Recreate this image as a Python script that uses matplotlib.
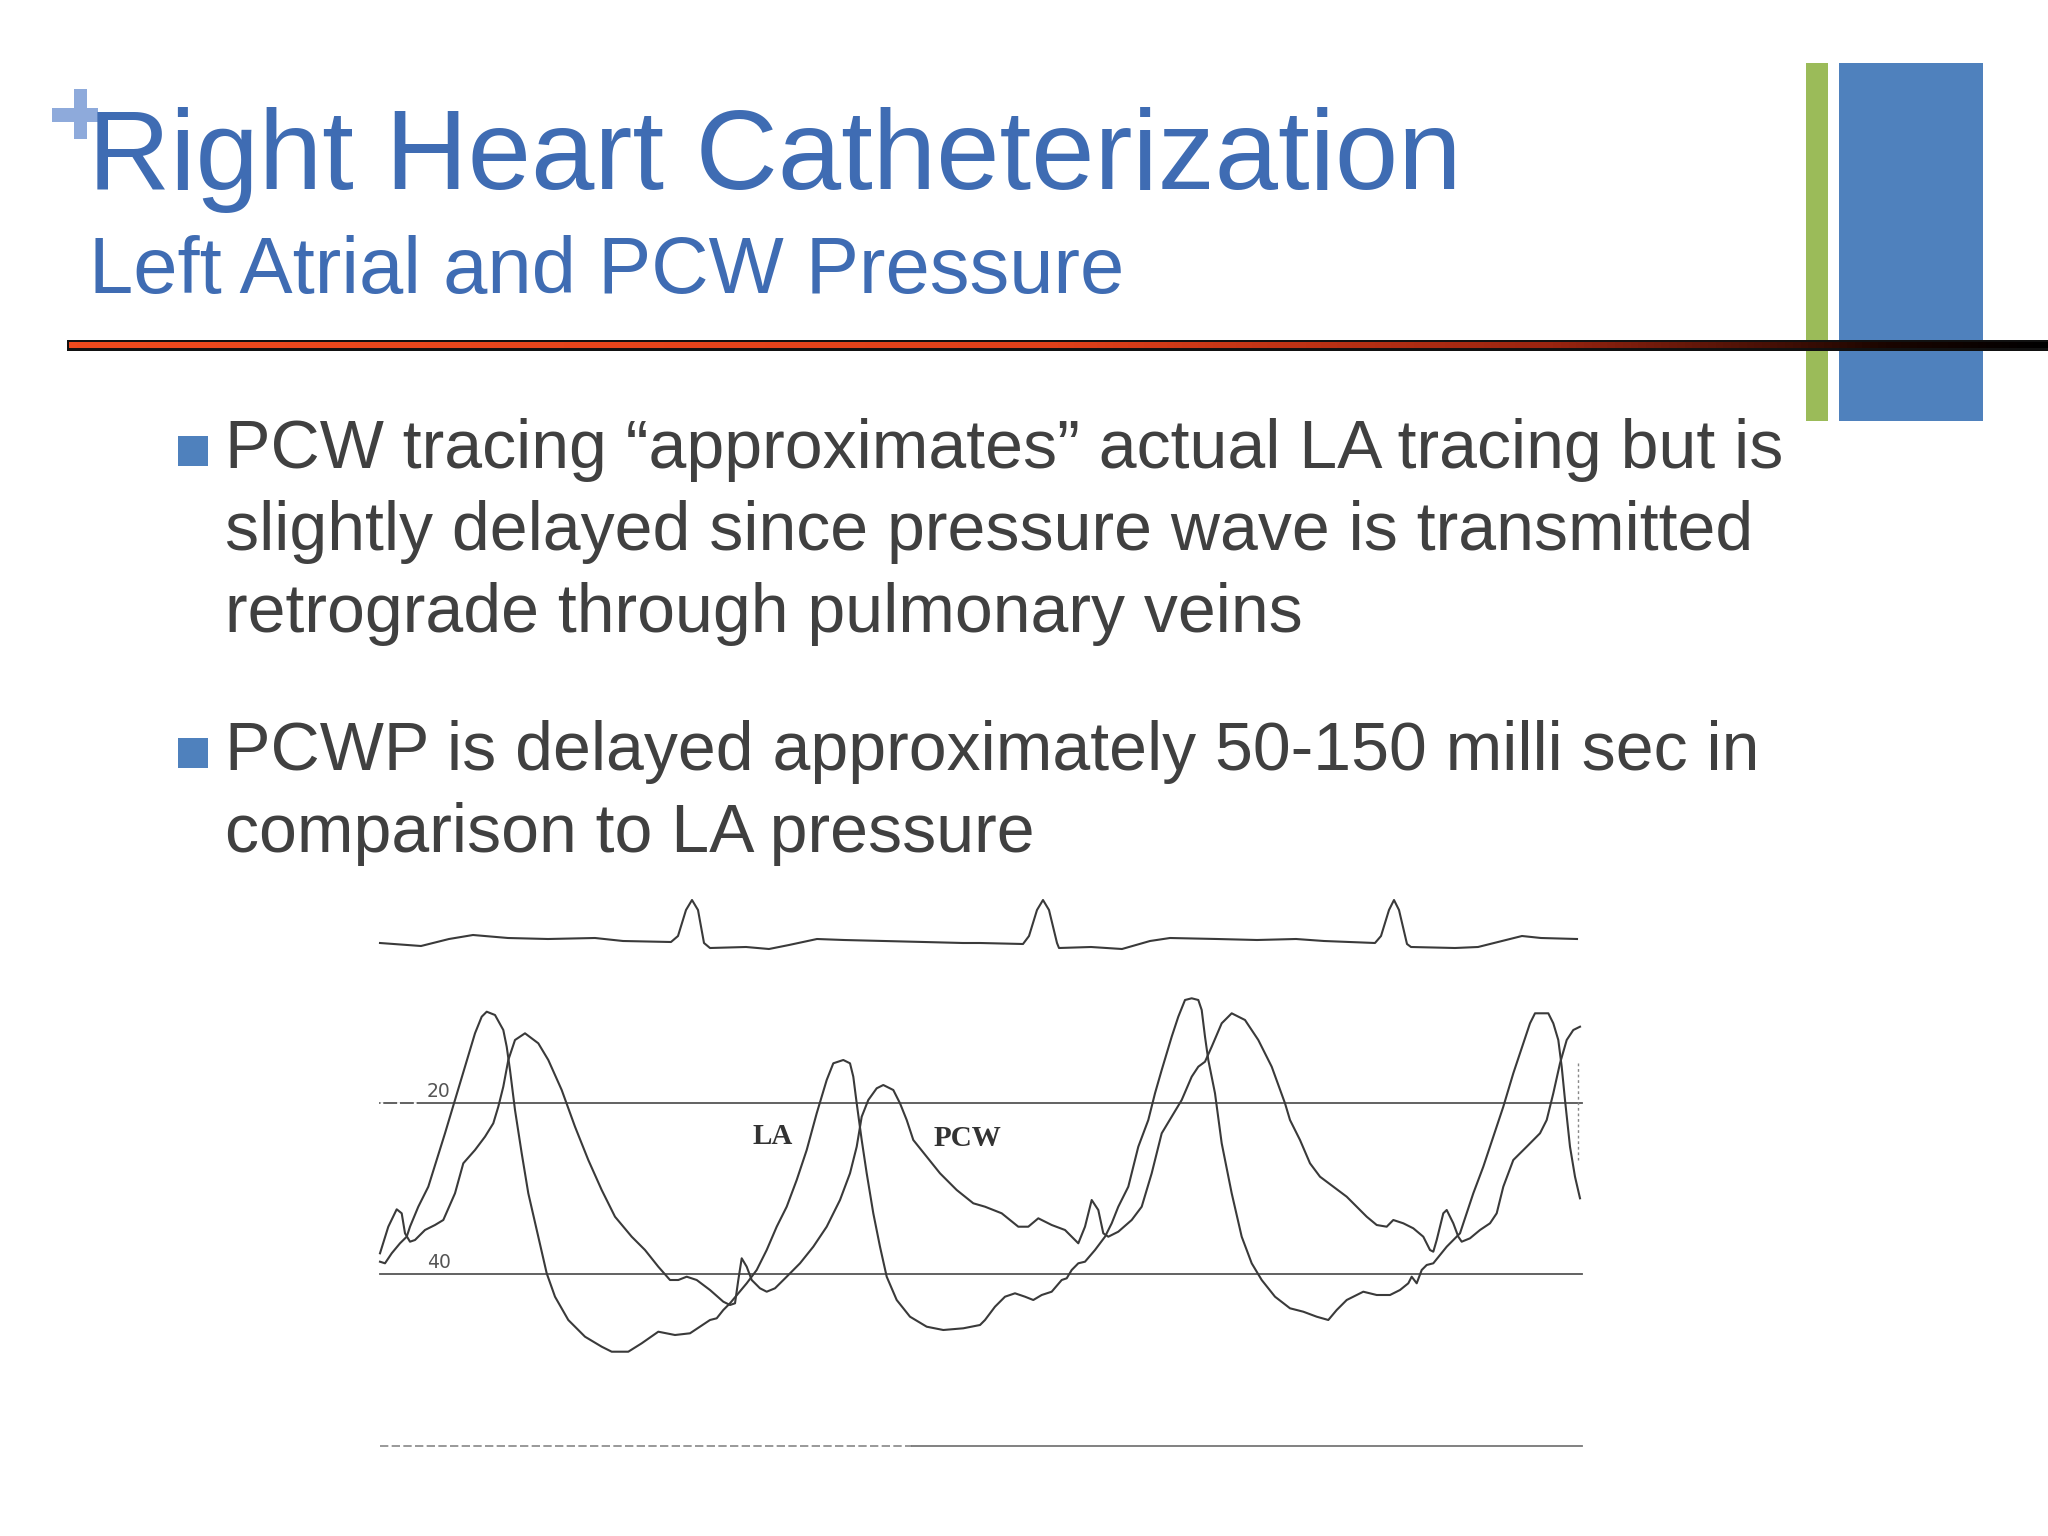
import matplotlib
matplotlib.use("Agg")
import matplotlib.pyplot as plt
import numpy as np
from matplotlib.patches import Rectangle
from matplotlib.colors import LinearSegmentedColormap

# slide text
title = "Right Heart Catheterization"
subtitle = "Left Atrial and PCW Pressure"
bullets = [
    ["PCW tracing \u201capproximates\u201d actual LA tracing but is",
     "slightly delayed since pressure wave is transmitted",
     "retrograde through pulmonary veins"],
    ["PCWP is delayed approximately 50-150 milli sec in",
     "comparison to LA pressure"],
]

# tracing (x = time, y = pen position, downward)
ecg_x = [380, 421, 449, 473, 508, 548, 595, 623, 671, 678, 686, 692, 698, 704, 710,
         746, 769, 789, 817, 844, 884, 924, 963, 980, 1023, 1029, 1037, 1043, 1049,
         1057, 1059, 1091, 1122, 1150, 1170, 1217, 1257, 1296, 1324, 1375, 1381,
         1389, 1394, 1399, 1407, 1411, 1455, 1478, 1494, 1522, 1541, 1577]
ecg_y = [943, 946, 939, 935, 938, 939, 938, 941, 942, 936, 910, 900, 910, 943, 948,
         947, 949, 945, 939, 940, 941, 942, 943, 943, 944, 936, 910, 900, 910,
         943, 948, 947, 949, 941, 938, 939, 940, 939, 941, 943, 936,
         910, 900, 910, 944, 947, 948, 947, 943, 936, 938, 939]

la_x = [380, 385, 391.7, 400, 406.7, 410, 418.3, 428.3, 436.7, 445, 455, 465, 475,
        481.7, 486.7, 495, 503.3, 506.7, 510, 515, 521.7, 528.3, 538.3, 546.7, 555,
        568.3, 585, 601.7, 611.7, 628.3, 641.7, 658.3, 675,
        690, 700, 710, 716.7, 723.3, 730, 738.3, 746.7, 756.7, 766.7, 776.7, 786.7,
        796.7, 806.7, 816.7, 826.7, 833.3, 843.3, 850, 853.3, 856.7, 861.7, 866.7,
        873.3, 880, 886.7, 896.7, 910, 926.7, 943.3, 963.3, 980,
        985, 995, 1005, 1015, 1025, 1033.3, 1041.7, 1051.7, 1061.7, 1066.7, 1071.7,
        1078.3, 1085, 1095, 1105, 1111.7, 1118.3, 1128.3, 1138.3, 1148.3, 1155,
        1161.7, 1171.7, 1178.3, 1185, 1191.7, 1198.3, 1201.7, 1205, 1208.3, 1215,
        1221.7, 1231.7, 1241.7, 1251.7, 1261.7, 1275,
        1290, 1303.3, 1316.7, 1328.3, 1336.7, 1346.7, 1363.3, 1376.7, 1390, 1400,
        1408.3, 1411.7, 1416.7, 1421.7, 1426.7, 1433.3, 1440, 1446.7, 1453.3, 1460,
        1463.3, 1473.3, 1483.3, 1493.3, 1503.3, 1513.3, 1523.3, 1530, 1535, 1548.3,
        1553.3, 1558.3, 1561.7, 1565, 1570, 1575, 1580]
la_y = [1261.7, 1263.3, 1253.3, 1243.3, 1236.7, 1226.7, 1206.7, 1186.7, 1160, 1133.3,
        1100, 1066.7, 1033.3, 1016.7, 1011.7, 1015, 1030, 1046.7, 1070, 1110, 1153.3,
        1193.3, 1236.7, 1273.3, 1296.7, 1320, 1336.7, 1346.7, 1351.7, 1351.7, 1343.3,
        1331.7, 1335,
        1333.3, 1326.7, 1320, 1318.3, 1310, 1303.3, 1293.3, 1283.3, 1270, 1250,
        1226.7, 1206.7, 1180, 1150, 1113.3, 1080, 1063.3, 1060, 1063.3, 1076.7,
        1103.3, 1140, 1173.3, 1213.3, 1246.7, 1276.7, 1300, 1316.7, 1326.7, 1330,
        1328.3, 1325,
        1320, 1306.7, 1296.7, 1293.3, 1296.7, 1300, 1295, 1291.7, 1280, 1278.3, 1270,
        1263.3, 1261.7, 1250, 1236.7, 1223.3, 1206.7, 1186.7, 1146.7, 1120, 1093.3,
        1070, 1036.7, 1016.7, 1000, 998.3, 1000, 1010, 1036.7, 1060, 1093.3,
        1143.3, 1193.3, 1236.7, 1263.3, 1280, 1296.7,
        1308.3, 1311.7, 1316.7, 1320, 1310, 1300, 1291.7, 1295, 1295, 1290,
        1283.3, 1276.7, 1283.3, 1270, 1265, 1263.3, 1255, 1246.7, 1240, 1233.3,
        1223.3, 1193.3, 1166.7, 1136.7, 1106.7, 1073.3, 1043.3, 1023.3, 1013.3, 1013.3,
        1023.3, 1040, 1066.7, 1100, 1146.7, 1176.7, 1198.3]

pcw_x = [380, 388.3, 396.7, 401.7, 405, 410, 415, 425, 435, 443.3, 455, 463.3, 475,
         485, 493.3, 498.3, 503.3, 508.3, 515, 525, 538.3, 548.3, 561.7, 575, 588.3,
         601.7, 615, 631.7, 645, 658.3, 670, 678.3,
         686.7, 696.7, 710, 723.3, 730, 735, 738.3, 741.7, 746.7, 751.7, 760, 766.7,
         775, 786.7, 800, 813.3, 826.7, 840, 850, 853.3, 856.7, 861.7, 868.3, 876.7,
         883.3, 893.3, 900, 906.7, 913.3, 926.7, 940, 956.7, 973.3,
         985, 1001.7, 1018.3, 1028.3, 1038.3, 1051.7, 1065, 1075, 1078.3, 1085,
         1091.7, 1098.3, 1103.3, 1108.3, 1118.3, 1131.7, 1141.7, 1151.7, 1161.7,
         1171.7, 1181.7, 1191.7, 1198.3, 1205, 1211.7, 1221.7, 1231.7, 1245, 1258.3,
         1271.7, 1285,
         1290, 1300, 1310, 1320, 1333.3, 1346.7, 1356.7, 1366.7, 1376.7, 1386.7,
         1393.3, 1403.3, 1413.3, 1423.3, 1430, 1433.3, 1436.7, 1443.3, 1446.7, 1453.3,
         1458.3, 1461.7, 1470, 1480, 1490, 1496.7, 1503.3, 1513.3, 1526.7, 1540,
         1546.7, 1553.3, 1560, 1566.7, 1573.3, 1580]
pcw_y = [1253.3, 1226.7, 1209.3, 1213.3, 1233.3, 1241.7, 1240, 1230, 1225, 1220,
         1193.3, 1163.3, 1150, 1136.7, 1123.3, 1106.7, 1086.7, 1060, 1040, 1033.3,
         1043.3, 1060, 1090, 1126.7, 1160, 1190, 1216.7, 1236.7, 1250, 1266.7, 1280,
         1280,
         1276.7, 1280, 1290, 1301.7, 1305, 1303.3, 1280, 1258.3, 1266.7, 1280, 1288.3,
         1291.7, 1288.3, 1276.7, 1263.3, 1246.7, 1226.7, 1200, 1173.3, 1160, 1146.7,
         1116.7, 1100, 1088.3, 1085, 1090, 1103.3, 1120, 1140, 1156.7, 1173.3, 1190,
         1203.3,
         1206.7, 1213.3, 1226.7, 1226.7, 1218.3, 1225, 1230, 1240, 1243.3, 1226.7,
         1200, 1210, 1233.3, 1236.7, 1231.7, 1220, 1206.7, 1173.3, 1133.3, 1116.7,
         1100, 1076.7, 1066.7, 1061.7, 1046.7, 1023.3, 1013.3, 1020, 1040, 1066.7,
         1103.3,
         1120, 1140, 1163.3, 1176.7, 1186.7, 1196.7, 1206.7, 1216.7, 1225, 1226.7,
         1220, 1223.3, 1228.3, 1236.7, 1250, 1251.7, 1240, 1213.3, 1210, 1223.3,
         1236.7, 1241.7, 1238.3, 1230, 1223.3, 1213.3, 1186.7, 1160, 1146.7, 1133.3,
         1120, 1093.3, 1063.3, 1040, 1030, 1026.7]

ref_levels = [1102.7, 1274]
ref_labels = ["20", "40"]
trace_names = ["LA", "PCW"]

blue = "#3F6CB3"
ink = "#3a3a3a"

fig = plt.figure(figsize=(20.48, 15.36), dpi=100)
ax = fig.add_axes([0, 0, 1, 1])
ax.axis("off")

# header decoration
ax.add_patch(Rectangle((1806, 63), 22, 358, color="#9BBB59", lw=0))
ax.add_patch(Rectangle((1839, 63), 144, 358, color="#4F81BD", lw=0))
ax.add_patch(Rectangle((74, 89), 13, 50, color="#8EAADB", lw=0))
ax.add_patch(Rectangle((52, 108), 46, 14, color="#8EAADB", lw=0))

grad_cmap = LinearSegmentedColormap.from_list(
    "rule", [(0, "#EE4A1E"), (0.5, "#E0401A"), (0.75, "#9A2410"), (0.92, "#1a0500"), (1, "#000000")])
ax.add_patch(Rectangle((67, 340), 1990, 11, color="#111111", lw=0, zorder=3))
ax.imshow(np.linspace(0, 1, 512)[None, :], extent=[69, 2048, 348.5, 342.5],
          cmap=grad_cmap, aspect="auto", zorder=4)

ax.text(88, 189, title, fontsize=82, color=blue, family="Liberation Sans", va="baseline")
ax.text(89, 293, subtitle, fontsize=57.3, color=blue, family="Liberation Sans", va="baseline")

# bullets
baseline = 468
for lines in bullets:
    ax.add_patch(Rectangle((178, baseline - 32), 30, 30, color="#4F81BD", lw=0))
    for line in lines:
        ax.text(225, baseline, line, fontsize=49, color="#404040",
                family="Liberation Sans", va="baseline")
        baseline += 82
    baseline += 56

# tracing
ax.plot(ecg_x, ecg_y, color=ink, lw=1.5, solid_joinstyle="round")
for lvl, lab in zip(ref_levels, ref_labels):
    ax.plot([380, 1582], [lvl, lvl], color="#555555", lw=1.3)
    ax.text(427, lvl - 11, lab, fontsize=13.5, color="#555555",
            family="DejaVu Sans", va="center")
ax.plot([380, 425], [ref_levels[0], ref_levels[0]], color="white", lw=2.0,
        ls=(0, (1, 5)))
ax.plot([380, 912], [1446, 1446], color="#888888", lw=1.2, ls=(0, (5, 2)))
ax.plot([912, 1582], [1446, 1446], color="#777777", lw=1.3)
ax.plot([1578, 1578], [1063, 1160], color="#888888", lw=1.0, ls=(0, (2, 2)))

ax.plot(la_x, la_y, color=ink, lw=1.5, solid_joinstyle="round")
ax.plot(pcw_x, pcw_y, color=ink, lw=1.5, solid_joinstyle="round")
ax.text(773, 1137, trace_names[0], fontsize=21, fontweight="bold", color="#333333",
        family="Liberation Serif", ha="center", va="center")
ax.text(968, 1139, trace_names[1], fontsize=21, fontweight="bold", color="#333333",
        family="Liberation Serif", ha="center", va="center")

ax.set_xlim(0, 2048)
ax.set_ylim(1536, 0)
fig.savefig("out.png", dpi=100, facecolor="white")
